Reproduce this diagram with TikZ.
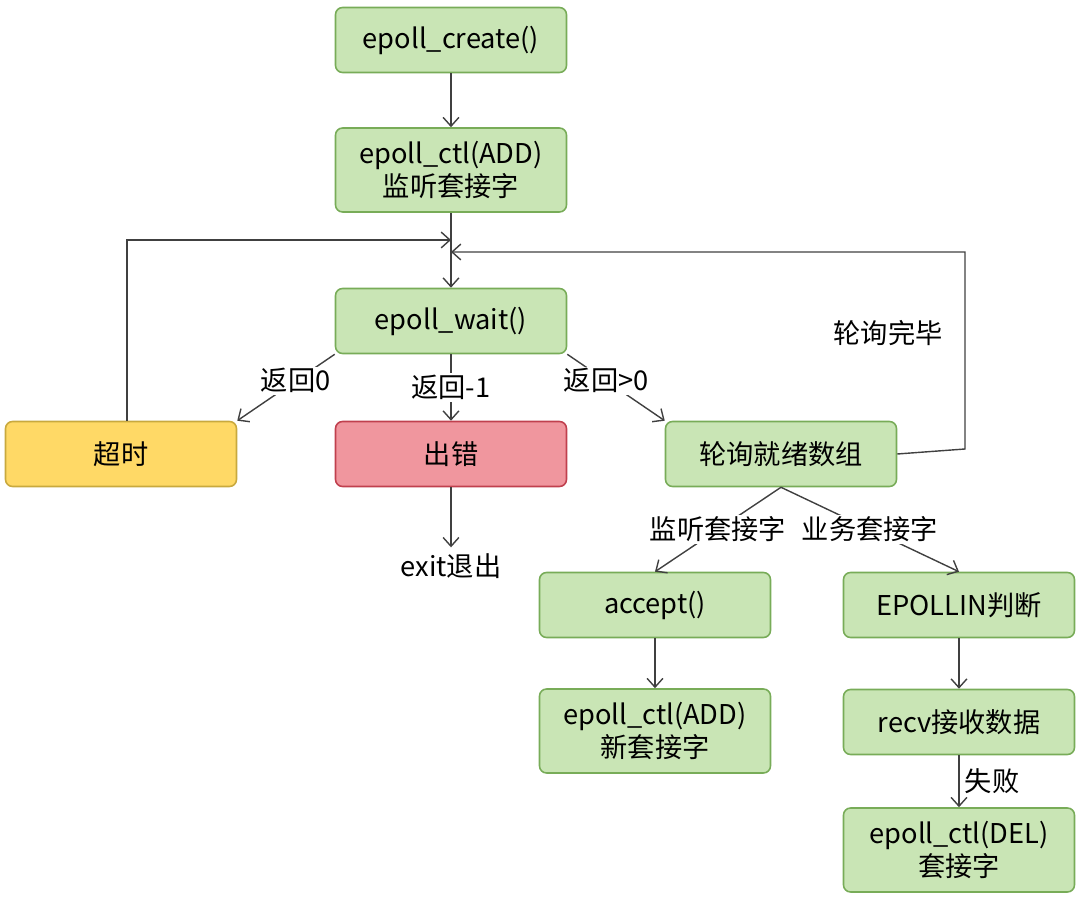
\documentclass[tikz,border=0pt]{standalone}
\usepackage{fontspec}
\setmainfont{Noto Sans CJK SC}
\usetikzlibrary{positioning, arrows.meta}
\definecolor{gfill}{HTML}{C9E5B5}
\definecolor{gline}{HTML}{78AC58}
\definecolor{yfill}{HTML}{FFD966}
\definecolor{yline}{HTML}{C9A93E}
\definecolor{rfill}{HTML}{F0969E}
\definecolor{rline}{HTML}{C0404E}
\tikzset{
  box/.style={draw=gline, fill=gfill, line width=0.9pt, rounded corners=4pt,
    minimum width=4.62cm, minimum height=1.3cm, align=center, font=\fontsize{15.5}{19}\selectfont},
  tall/.style={minimum height=1.68cm},
  flow/.style={draw=black!75, line width=0.8pt, -{Straight Barb[length=5pt,width=9pt]}},
  lbl/.style={fill=white, inner sep=1pt, font=\fontsize{15.5}{19}\selectfont}
}
\begin{document}
\begin{tikzpicture}[x=0.02cm, y=-0.02cm]
	\useasboundingbox (0,0) rectangle (1080,898);

	\node [box] (create) at (451,40) {epoll\_create()};
	\node [box, tall] (ctladd) at (451,170) {epoll\_ctl(ADD)\\监听套接字};
	\node [box] (wait) at (451,321) {epoll\_wait()};
	\node [box, draw=yline, fill=yfill] (timeout) at (121,454) {超时};
	\node [box, draw=rline, fill=rfill] (error) at (451,454) {出错};
	\node [box] (poll) at (781,454) {轮询就绪数组};
	\node [font=\fontsize{15.5}{19}\selectfont] (exit) at (451,566) {exit退出};
	\node [box] (accept) at (655,605) {accept()};
	\node [box, tall] (ctlnew) at (655,731) {epoll\_ctl(ADD)\\新套接字};
	\node [box] (epollin) at (959,605) {EPOLLIN判断};
	\node [box] (recv) at (959,722) {recv接收数据};
	\node [box, tall] (del) at (959,850) {epoll\_ctl(DEL)\\套接字};

	\coordinate (j1) at (451,240);
	\coordinate (j2) at (451,252);

	\draw [flow] (timeout.north -| 127,0) -- (127,240) -- (j1);
	\draw [flow] (create) -- (ctladd);
	\draw [flow] (ctladd) -- (wait);
	\draw [flow] (poll.east) -- (965,449) -- (965,252) -- (j2);
	\node [lbl] at (888,333) {轮询完毕};

	\draw [flow] (wait.south west) -- (timeout.north east) node [lbl, pos=0.4] {返回0};
	\draw [flow] (wait) -- (error) node [lbl, midway] {返回-1};
	\draw [flow] (wait.south east) -- (poll.north west) node [lbl, pos=0.4] {返回>0};
	\draw [flow] (error) -- (exit);

	\draw [flow] (poll.south) -- (accept.north) node [lbl, midway] {监听套接字};
	\draw [flow] (poll.south) -- (epollin.north) node [lbl, midway] {业务套接字};
	\draw [flow] (accept) -- (ctlnew);
	\draw [flow] (epollin) -- (recv);
	\draw [flow] (recv) -- (del) node [lbl, midway, anchor=west, xshift=2pt] {失败};
\end{tikzpicture}
\end{document}
